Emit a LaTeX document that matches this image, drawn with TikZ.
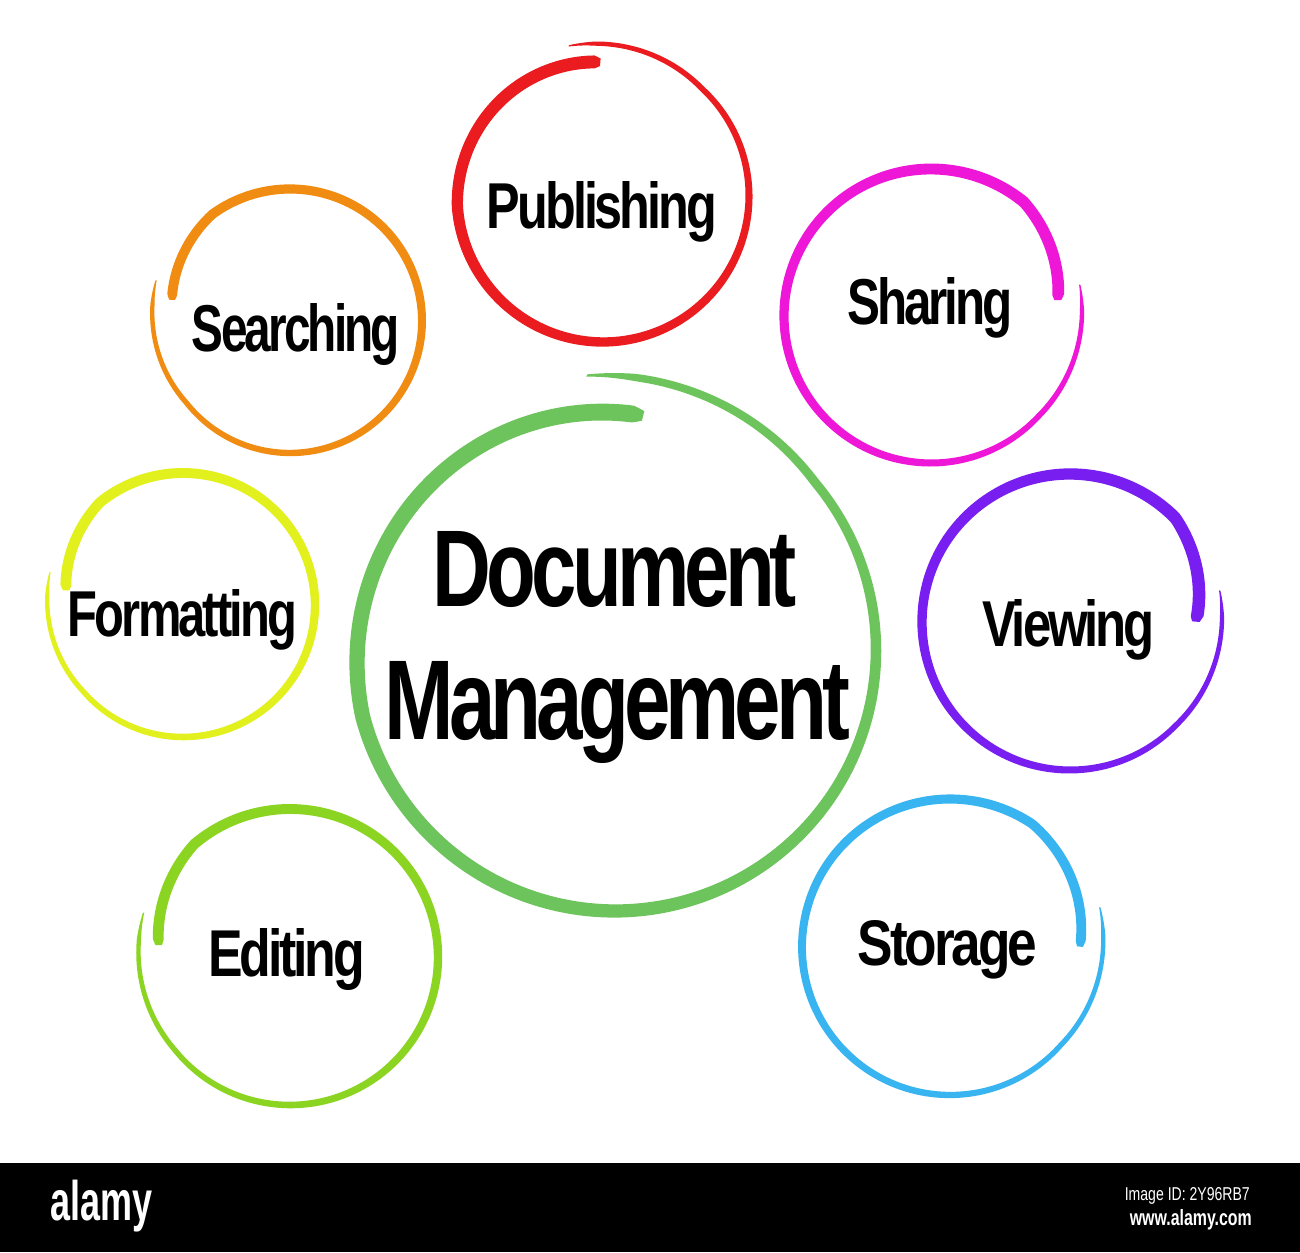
\documentclass[tikz,border=0pt]{standalone}
\usepackage{fontspec}
\usepackage{graphicx}
\setmainfont{Liberation Sans}
\newfontfamily\lblfont[LetterSpace=-6]{Liberation Sans}
\definecolor{cgreen}{RGB}{110,196,92}
\definecolor{cred}{RGB}{235,28,32}
\definecolor{cmag}{RGB}{238,22,215}
\definecolor{cpurp}{RGB}{120,30,240}
\definecolor{cblue}{RGB}{56,180,240}
\definecolor{clime}{RGB}{140,212,34}
\definecolor{cyel}{RGB}{226,240,30}
\definecolor{corange}{RGB}{240,140,18}
\pgfkeys{/hr/.cd,
  cx/.store in=\hrcx, cy/.store in=\hrcy,
  a/.store in=\hra, s/.store in=\hrs,
  rs/.store in=\hrrs, R/.store in=\hrR, re/.store in=\hrre,
  ta/.store in=\hrta, tb/.store in=\hrtb,
  ws/.store in=\hrws, we/.store in=\hrwe, q/.store in=\hrq,
  ta=0.15, tb=0.85, q=0}
\newcommand\handring[2]{%
  \pgfkeys{/hr/.cd,#2}%
  \fill[#1] plot[domain=0:1,samples=300,variable=\t]
     ({\hrcx+(hrad(\t)+hwid(\t)/2)*cos(\hra+\hrs*\t)},{\hrcy+(hrad(\t)+hwid(\t)/2)*sin(\hra+\hrs*\t)})
   -- plot[domain=1:0,samples=300,variable=\t]
     ({\hrcx+(hrad(\t)-hwid(\t)/2)*cos(\hra+\hrs*\t)},{\hrcy+(hrad(\t)-hwid(\t)/2)*sin(\hra+\hrs*\t)})
   -- cycle;}
\tikzset{lbl/.style={inner sep=0pt, anchor=base, font=\lblfont\bfseries}}
\begin{document}
\begin{tikzpicture}[x=1pt,y=1pt,
  declare function={
    hrad(\t)=\hrR-(\hrR-\hrrs)*max(0,1-\t/\hrta)+(\hrre-\hrR)*max(0,(\t-\hrtb)/(1-\hrtb));
    hwid(\t)=(\hrwe+(\hrws-\hrwe)*(1-\t)*(1-\hrq*\t))*min(1,0.3+(1-\t)/0.04)*min(1,0.55+\t/0.015);
  }]
\useasboundingbox (0,0) rectangle (1300,1252);
\fill[white] (0,0) rectangle (1300,1252);

% hand-drawn rings
\handring{cgreen}{cx=615,cy=602,a=83,s=373,rs=236,R=261,re=276,ta=0.3,tb=0.85,ws=17,we=7,q=-0.5}
\handring{cred}{cx=603,cy=1056,a=91,s=372,rs=134,R=146,re=154,ta=0.25,tb=0.85,ws=13,we=4,q=-0.3}
\handring{cmag}{cx=931,cy=936,a=7,s=365,rs=128,R=147,re=152,ta=0.12,tb=0.85,ws=12,we=4,q=-0.5}
\handring{cpurp}{cx=1070,cy=630,a=0,s=372,rs=126,R=148,re=153,ta=0.12,tb=0.85,ws=13,we=4,q=-0.3}
\handring{cblue}{cx=950,cy=305,a=0,s=375,rs=130,R=148,re=155,ta=0.15,tb=0.85,ws=10,we=4,q=-0.5}
\handring{clime}{cx=290,cy=295,a=175,s=-372,rs=132,R=148,re=153,ta=0.12,tb=0.85,ws=11,we=4,q=-0.4}
\handring{cyel}{cx=183,cy=647,a=173,s=-367,rs=118,R=132,re=137,ta=0.12,tb=0.85,ws=11,we=4,q=-0.4}
\handring{corange}{cx=290,cy=931,a=170,s=-367,rs=120,R=132,re=140,ta=0.12,tb=0.85,ws=10,we=4,q=-0.5}

% labels
\node[lbl] (pub) at (602,1023) {\resizebox{230pt}{47pt}{Publishing}};
\node[lbl] (sha) at (930,927) {\resizebox{166pt}{47pt}{Sharing}};
\node[lbl] (sea) at (296,900) {\resizebox{208pt}{48pt}{Searching}};
\node[lbl] (frm) at (182.5,615) {\resizebox{229pt}{47pt}{Formatting}};
\node[lbl] (doc) at (615,645) {\resizebox{364pt}{75pt}{Document}};
\node[lbl] (man) at (617.5,512) {\resizebox{465pt}{78pt}{Management}};
\node[lbl] (vie) at (1068.5,605) {\resizebox{173pt}{47pt}{Viewing}};
\node[lbl] (sto) at (947.5,286) {\resizebox{179pt}{45pt}{Storage}};
\node[lbl] (edi) at (286.5,275) {\resizebox{157pt}{48pt}{Editing}};

% stock bar
\fill[black] (0,0) rectangle (1300,89);
\node[anchor=south west, inner sep=0pt, text=white, font=\bfseries] (alamy) at (50,20) {\resizebox*{102pt}{52pt}{alamy}};
\node[anchor=base east, inner sep=0pt, text=white] (imgid) at (1250,52) {\resizebox{125pt}{13pt}{Image ID: 2Y96RB7}};
\node[anchor=base east, inner sep=0pt, text=white, font=\bfseries] (www) at (1252,27) {\resizebox{122pt}{16pt}{www.alamy.com}};
\end{tikzpicture}
\end{document}
